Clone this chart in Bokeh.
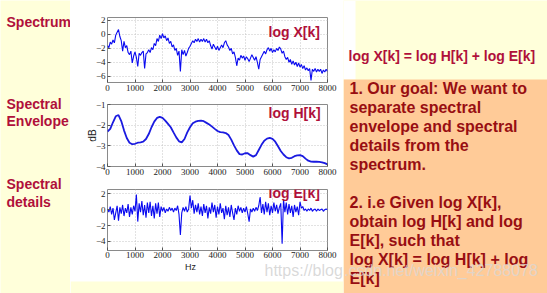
import numpy as np
from bokeh.plotting import figure
from bokeh.models import Range1d, FixedTicker, Label, BoxAnnotation
from bokeh.layouts import row, column
from bokeh.embed import file_html
from bokeh.resources import INLINE

# ---------------- data ----------------
x_ticks = [0, 1000, 2000, 3000, 4000, 5000, 6000, 7000, 8000]
spec_step_hz = 50
spectrum_log_x = [
    -1.6, -1.9, -1.1, -1.4, -0.8, -1.2, -0.1, 0.3, 0.7, -0.3,
    -0.9, -2.4, -1.0, -1.9, -1.6, -2.6, -2.9, -2.4, -4.1, -3.1,
    -2.5, -3.3, -4.6, -2.7, -3.0, -2.6, -2.4, -4.9, -2.8, -2.6,
    -2.2, -2.6, -1.9, -2.2, -1.3, -1.6, -0.6, -1.0, -0.1, -0.6,
    0.1, -0.5, -0.2, -0.9, -0.5, -1.3, -1.0, -1.8, -1.5, -2.3,
    -2.0, -3.0, -2.4, -5.3, -2.2, -2.9, -2.3, -3.1, -2.6, -2.0,
    -1.7, -1.3, -0.9, -1.2, -0.7, -1.0, -0.6, -1.1, -0.7, -1.0,
    -0.6, -1.1, -0.7, -1.2, -0.9, -1.6, -2.1, -1.4, -1.8, -2.2,
    -1.7, -2.3, -1.9, -1.5, -1.9, -1.2, -0.9, -1.5, -1.8, -2.3,
    -2.0, -2.8, -2.5, -3.3, -4.5, -3.4, -3.7, -3.0, -3.4, -3.1,
    -3.7, -3.2, -3.5, -3.9, -3.4, -2.9, -3.3, -3.7, -3.2, -4.0,
    -5.0, -3.6, -3.2, -2.8, -2.4, -2.8, -2.2, -1.9, -2.4, -2.0,
    -2.6, -2.2, -2.5, -2.0, -2.3, -1.8, -2.1, -2.7, -2.4, -3.2,
    -3.6, -3.3, -4.0, -3.6, -4.3, -3.8, -4.4, -4.0, -4.6, -4.1,
    -4.7, -4.3, -4.9, -4.5, -5.1, -4.8, -5.2, -4.9, -6.6, -5.0,
    -5.3, -4.9, -5.4, -5.0, -5.3, -5.0, -5.6, -5.1, -5.4, -5.0,
    -5.3,
]
env_step_hz = 100
envelope_log_h = [
    -2.31, -2.18, -1.86, -1.57, -1.51, -1.80, -2.25, -2.62, -2.85, -2.92,
    -2.90, -2.85, -2.83, -2.80, -2.67, -2.43, -2.10, -1.83, -1.65, -1.60,
    -1.65, -1.78, -1.94, -2.10, -2.35, -2.59, -2.78, -2.83, -2.67, -2.35,
    -2.10, -1.91, -1.83, -1.79, -1.78, -1.81, -1.89, -1.97, -2.07, -2.18,
    -2.28, -2.34, -2.35, -2.38, -2.48, -2.70, -2.98, -3.22, -3.40, -3.42,
    -3.36, -3.36, -3.45, -3.52, -3.45, -3.20, -2.95, -2.75, -2.65, -2.62,
    -2.66, -2.80, -3.02, -3.25, -3.42, -3.55, -3.61, -3.58, -3.50, -3.46,
    -3.45, -3.50, -3.62, -3.72, -3.76, -3.77, -3.77, -3.78, -3.80, -3.84,
    -3.90,
]
det_step_hz = 50
details_log_e = [
    0.1, -0.3, 0.4, -0.6, 0.2, -1.3, -0.4, 0.5, -1.4, 0.3,
    -0.5, 0.6, -0.8, 0.2, -0.4, 0.7, -0.9, 0.3, -0.6, 0.5,
    -0.2, 1.9, -1.5, 0.8, -0.3, 1.1, -0.7, 0.6, -1.0, 0.9,
    -0.4, 1.0, -0.8, 0.5, -1.1, 0.8, -0.5, 0.9, -0.9, 0.4,
    -0.2, 0.3, -0.4, 0.1, -0.2, 0.3, -0.1, 0.2, -0.3, 0.2,
    -0.1, 0.5, -0.6, -3.2, -0.4, 0.3, -0.2, 0.4, -0.3, 0.1,
    1.8, 0.2, 1.2, -0.5, 0.6, -0.3, 0.8, -0.6, 0.4, -0.8,
    0.7, -0.4, 0.5, -1.1, 0.3, -0.5, 0.9, -0.3, 0.6, -1.0,
    0.4, -0.6, 0.8, -0.4, 0.2, -1.2, 0.5, -0.7, 0.3, -0.9,
    0.6, -0.4, -1.3, 0.2, -0.6, 0.5, -0.2, 0.3, -0.4, 0.2,
    -0.3, 0.4, -0.5, -1.5, 0.1, -0.3, 0.2, -0.2, 0.3, -0.1,
    0.5, 1.6, -0.4, 0.7, -0.6, 1.0, -0.3, 0.8, -0.7, 0.5,
    -0.4, 0.9, -0.2, 0.6, -0.5, 0.3, 0.8, -4.3, 1.3, -0.3,
    0.9, -0.6, 0.7, -0.4, 0.5, -0.9, 0.6, -0.3, 0.4, -0.7,
    1.0, 0.2, 0.4, -0.1, 0.1, -0.2, 0.1, -0.1, 0.2, -0.2,
    0.0, 0.1, -0.2, 0.1, -0.1, 0.0, 0.1, -0.2, 0.0, 0.1,
    0.0,
]
spec_yticks = [-6, -4, -2, 0, 2]
env_yticks = [-4, -3, -2, -1]
det_yticks = [-4, -2, 0, 2]

side_labels = ["Spectrum", "Spectral", "Envelope", "Spectral", "details"]
plot_tags = ["log X[k]", "log H[k]", "log E[k]"]
equation = "log X[k] = log H[k] + log E[k]"
box_lines = [
    "1. Our goal: We want to",
    "separate spectral",
    "envelope and spectral",
    "details from the",
    "spectrum.",
    "",
    "2. i.e Given log X[k],",
    "obtain log H[k] and log",
    "E[k], such that",
    "log X[k] = log H[k] + log",
    "E[k]",
]
wm_left = "https://blog"
wm_right = ".csdn.net/weixin_42788078"

# ---------------- style ----------------
YEL = "#FFFFDA"
ORANGE = "#FFCB98"
CRIMSON = "#B0103A"
BOXRED = "#980E12"
BLUE = "#0A0AF0"
BOLD = "Liberation Sans"
TICKFONT = "Liberation Sans Narrow"


def hz(n, step):
    return [i * step for i in range(n)]


def canvas_fig(w, h, x0, y0, bg):
    """A decoration figure whose data units are page pixels."""
    f = figure(width=w, height=h, x_range=Range1d(x0, x0 + w), y_range=Range1d(y0 + h, y0),
               output_backend="svg", toolbar_location=None, min_border=0,
               x_axis_location=None, y_axis_location=None,
               background_fill_color=bg, border_fill_color=bg, outline_line_color=None)
    f.grid.visible = False
    f.frame_align = False
    return f


def make_plot(height, btop, bbot, yr, yticks):
    p = figure(width=273, height=height, x_range=Range1d(0, 8000), y_range=Range1d(*yr),
               output_backend="svg", toolbar_location=None,
               min_border_left=37, min_border_right=16,
               min_border_top=btop, min_border_bottom=bbot,
               background_fill_color="white", border_fill_color="white",
               outline_line_color="#8a8a8a")
    p.frame_align = False
    p.xaxis.ticker = FixedTicker(ticks=x_ticks)
    p.yaxis.ticker = FixedTicker(ticks=yticks)
    for ax in (p.xaxis, p.yaxis):
        ax.major_tick_in = 3
        ax.major_tick_out = 0
        ax.minor_tick_line_color = None
        ax.axis_line_color = None
        ax.major_tick_line_color = "#555555"
        ax.major_label_text_font = TICKFONT
        ax.major_label_text_font_size = "9px"
        ax.major_label_text_color = "#222222"
        ax.major_label_standoff = 2
    p.grid.grid_line_color = "#c4c4c4"
    p.grid.grid_line_dash = "1 2"
    p.grid.grid_line_width = 1
    return p


def tag(p, text, x, y):
    p.add_layout(Label(x=x, y=y, x_units="screen", y_units="screen", text=text,
                       text_font=BOLD, text_font_size="14px", text_font_style="bold",
                       text_color=CRIMSON))


# left strip with the row names
lf = canvas_fig(70, 293, 0, 0, YEL)
for t, yb in zip(side_labels, [29, 111.7, 128.3, 191.7, 209]):
    lf.add_layout(Label(x=6, y=yb, text=t, text_font=BOLD, text_font_size="14px",
                        text_font_style="bold", text_color=CRIMSON))

# plot 1: spectrum  (canvas y 0..95, frame 17..82)
p1 = make_plot(95, 17, 13, (-6.9, 2.43), spec_yticks)
p1.line(hz(len(spectrum_log_x), spec_step_hz), spectrum_log_x, line_color=BLUE, line_width=1.1)
tag(p1, plot_tags[0], 161, 42.7)

# plot 2: envelope (canvas y 95..179, frame 104..166)
p2 = make_plot(84, 9, 13, (-4, -1), env_yticks)
p2.line(hz(len(envelope_log_h), env_step_hz), envelope_log_h, line_color="#1a1ae0", line_width=1.8)
tag(p2, plot_tags[1], 161, 45.3)
p2.yaxis.axis_label = "dB"
p2.yaxis.axis_label_text_font = "Liberation Sans"
p2.yaxis.axis_label_text_font_style = "normal"
p2.yaxis.axis_label_text_font_size = "10px"
p2.yaxis.axis_label_text_color = "#222222"
p2.yaxis.axis_label_standoff = -5

# plot 3: details (canvas y 179..262, frame 189..250)
p3 = make_plot(83, 10, 12, (-5.15, 2.55), det_yticks)
p3.xaxis.major_label_standoff = 1
p3.line(hz(len(details_log_e), det_step_hz), details_log_e, line_color=BLUE, line_width=1.1)
tag(p3, plot_tags[2], 161, 50)

# strip under plot 3 (y 262..293): axis name, watermark, yellow slide edge
bs = canvas_fig(273, 31, 70, 262, "white")
bs.add_layout(BoxAnnotation(left=70, right=343, top=281, bottom=293,
                            fill_color=YEL, fill_alpha=1, line_color=None))
bs.add_layout(Label(x=190, y=271.5, text="Hz", text_font="Liberation Sans", text_font_size="9px",
                    text_color="#222222", text_align="center"))
bs.add_layout(Label(x=264, y=278, text=wm_left, text_font=BOLD, text_font_size="16px",
                    text_color="#c0c0c0", text_alpha=0.6))

# right side: equation + orange box
rf = canvas_fig(204, 293, 343, 0, YEL)
rf.add_layout(BoxAnnotation(left=343, right=355, top=0, bottom=79,
                            fill_color="white", fill_alpha=1, line_color=None))
rf.add_layout(BoxAnnotation(left=343, right=547, top=79, bottom=293,
                            fill_color=ORANGE, fill_alpha=1, line_color=None))
rf.add_layout(Label(x=348, y=63.5, text=equation, text_font=BOLD, text_font_size="14px",
                    text_font_style="bold", text_color=CRIMSON))
for i, t in enumerate(box_lines):
    if t:
        rf.add_layout(Label(x=349, y=96.5 + 19 * i, text=t, text_font=BOLD,
                            text_font_size="16px", text_font_style="bold",
                            text_color=BOXRED))
rf.add_layout(Label(x=343.5, y=278, text=wm_right, text_font=BOLD, text_font_size="16px",
                    text_color="#d8d8d8", text_alpha=0.75))

layout = row(lf, column(p1, p2, p3, bs, spacing=0), rf, spacing=0)
open("out.html", "w").write(file_html(layout, INLINE))
